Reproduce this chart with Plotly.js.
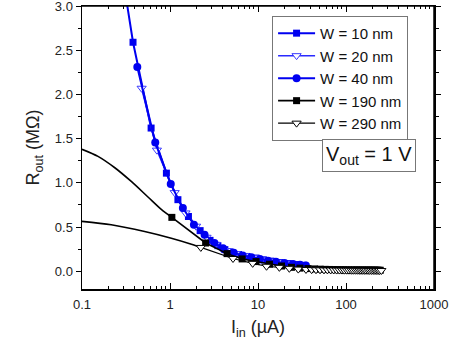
<!DOCTYPE html>
<html>
<head>
<meta charset="utf-8">
<script src="https://cdn.plot.ly/plotly-3.0.1.min.js"></script>
<style>html,body{margin:0;padding:0;background:#fff;}#plot{width:474px;height:347px;}</style>
</head>
<body>
<div id="plot"></div>
<script>
// ---- data (I in µA, R in MΩ) ----
var w10_I = [0.31, 0.38, 0.61, 0.91, 1.23, 1.62, 2.2, 2.85, 3.5, 4.2, 4.8, 6.0, 7.5, 9.5, 11.5, 14, 17.8, 22, 27.5, 33];
var w10_R = [3.15, 2.59, 1.62, 1.11, 0.81, 0.62, 0.46, 0.35, 0.29, 0.245, 0.22, 0.19, 0.168, 0.15, 0.13, 0.115, 0.10, 0.088, 0.077, 0.068];

var w20_I = [0.476, 0.71, 1.13, 1.5, 1.98, 2.6, 3.3, 4.4, 5.6, 7.0, 9.0, 11, 14, 17, 21, 26, 31];
var w20_R = [2.07, 1.37, 0.89, 0.66, 0.51, 0.385, 0.305, 0.235, 0.198, 0.175, 0.155, 0.135, 0.118, 0.105, 0.092, 0.080, 0.071];

var w40_I = [0.425, 0.68, 1.02, 1.40, 1.87, 2.47, 3.2, 4.0, 5.3, 6.7, 8.4, 10.5, 13, 16, 20, 25, 30, 35];
var w40_R = [2.31, 1.456, 0.986, 0.715, 0.527, 0.414, 0.32, 0.26, 0.21, 0.18, 0.16, 0.14, 0.12, 0.107, 0.094, 0.083, 0.074, 0.066];

var w190_lineI = [0.1, 0.152, 0.234, 0.363, 0.562, 0.796, 1.05];
var w190_lineR = [1.38, 1.30, 1.174, 1.016, 0.84, 0.70, 0.61];
var w190_I = [1.05, 2.54, 4.45, 6.6, 9.5, 13.5, 18.5, 24, 30, 37, 44, 51, 58, 65, 72, 79, 86, 93, 100, 108, 116, 124, 132, 140, 148, 156, 164, 172, 180, 188, 196, 204, 212, 220, 228, 236, 245];
var w190_R = [0.61, 0.32, 0.20, 0.14, 0.11, 0.08, 0.06, 0.045, 0.036, 0.031, 0.027, 0.024, 0.022, 0.021, 0.020, 0.019, 0.018, 0.018, 0.017, 0.017, 0.016, 0.016, 0.016, 0.015, 0.015, 0.015, 0.014, 0.014, 0.014, 0.014, 0.013, 0.013, 0.013, 0.013, 0.012, 0.012, 0.012];

var w290_lineI = [0.1, 0.215, 0.515, 1.035, 1.75, 2.24];
var w290_lineR = [0.565, 0.527, 0.451, 0.375, 0.307, 0.27];
var w290_I = [2.24, 5.2, 8.7, 12.5, 17.5, 22.7, 28.7, 35.1, 40.7, 45.6, 50.7, 56.2, 61.4, 67, 72.5, 78.3, 84, 90, 95.7, 102, 108, 115, 121, 128, 134.5, 141.6, 148, 155, 162, 169, 178, 186, 195, 204, 213, 221, 231, 240, 252];
var w290_R = [0.27, 0.145, 0.09, 0.057, 0.045, 0.034, 0.025, 0.021, 0.019, 0.018, 0.017, 0.016, 0.016, 0.015, 0.015, 0.014, 0.014, 0.014, 0.013, 0.013, 0.013, 0.012, 0.012, 0.012, 0.012, 0.011, 0.011, 0.011, 0.011, 0.011, 0.010, 0.010, 0.010, 0.010, 0.010, 0.010, 0.009, 0.009, 0.009];

var xTickVals = [0.1, 1, 10, 100, 1000];
var xTickText = ['0.1', '1', '10', '100', '1000'];
var yTickVals = [0.0, 0.5, 1.0, 1.5, 2.0, 2.5, 3.0];
var yTickText = ['0.0', '0.5', '1.0', '1.5', '2.0', '2.5', '3.0'];

var FONT = 'Liberation Sans, Arial, sans-serif';
var BLUE = '#0000f0';

var traces = [
  {x: w190_lineI, y: w190_lineR, mode: 'lines', line: {color: '#000', width: 1.6, shape: 'spline', smoothing: 0.8}, showlegend: false, hoverinfo: 'skip'},
  {x: w290_lineI, y: w290_lineR, mode: 'lines', line: {color: '#000', width: 1.6, shape: 'spline', smoothing: 0.8}, showlegend: false, hoverinfo: 'skip'},
  {x: w10_I, y: w10_R, name: 'W = 10 nm', mode: 'lines+markers', line: {color: BLUE, width: 2},
   marker: {symbol: 'square', size: 7, color: BLUE}},
  {x: w20_I, y: w20_R, name: 'W = 20 nm', mode: 'lines+markers', line: {color: '#2a2aff', width: 1.5},
   marker: {symbol: 'triangle-down', size: 8, color: '#ffffff', line: {color: '#3d3dff', width: 1}}},
  {x: w40_I, y: w40_R, name: 'W = 40 nm', mode: 'lines+markers', line: {color: BLUE, width: 2},
   marker: {symbol: 'circle', size: 8, color: BLUE}},
  {x: w190_I, y: w190_R, name: 'W = 190 nm', mode: 'lines+markers', line: {color: '#000', width: 1.6},
   marker: {symbol: 'square', size: 7, color: '#000'}},
  {x: w290_I, y: w290_R, name: 'W = 290 nm', mode: 'lines+markers', line: {color: '#000', width: 1.2},
   marker: {symbol: 'triangle-down', size: 8, color: '#ffffff', line: {color: '#000', width: 1}}}
];

var layout = {
  width: 474, height: 347,
  margin: {l: 82, r: 40, t: 6, b: 58, pad: 0},
  paper_bgcolor: '#fff', plot_bgcolor: '#fff',
  font: {family: FONT, color: '#222', size: 13},
  showlegend: true,
  xaxis: {
    type: 'log', range: [-1, 3], tickvals: xTickVals, ticktext: xTickText,
    ticks: 'inside', ticklen: 6, tickwidth: 1, tickcolor: '#000', mirror: 'ticks',
    minor: {ticks: 'inside', ticklen: 3, tickcolor: '#000', dtick: 'D1', showgrid: false},
    showline: true, linecolor: '#000', linewidth: 1.5, showgrid: false, zeroline: false,
    tickfont: {size: 13, color: '#222'}, ticklabelstandoff: 3,
    title: {text: 'I<sub>in</sub> (µA)', font: {size: 18, color: '#222'}, standoff: 9}
  },
  yaxis: {
    range: [-0.2, 3.0], tickvals: yTickVals, ticktext: yTickText,
    ticks: 'outside', ticklen: 5, tickwidth: 1, tickcolor: '#000', mirror: 'ticks',
    minor: {ticks: 'outside', ticklen: 3, tickcolor: '#000', dtick: 0.25, showgrid: false},
    showline: true, linecolor: '#000', linewidth: 1.5, showgrid: false, zeroline: false,
    tickfont: {size: 13, color: '#222'}, ticklabeloverflow: 'allow',
    title: {text: 'R<sub>out</sub> (MΩ)', font: {size: 18, color: '#222'}, standoff: 10}
  },
  shapes: [
    {type: 'line', xref: 'paper', yref: 'paper', x0: 0, x1: 1, y0: 1, y1: 1,
     line: {color: '#000', width: 1.5}, layer: 'above'},
    {type: 'line', xref: 'paper', yref: 'paper', x0: 1, x1: 1, y0: 0, y1: 1,
     line: {color: '#000', width: 1.5}, layer: 'above'}
  ],
  legend: {
    x: 0.54, y: 0.965, xanchor: 'left', yanchor: 'top',
    bgcolor: '#fff', bordercolor: '#777', borderwidth: 1,
    font: {family: FONT, size: 15, color: '#111'},
    tracegroupgap: 0, itemwidth: 37
  },
  annotations: [
    {xref: 'paper', yref: 'paper', x: 0.814, y: 0.472, xanchor: 'center', yanchor: 'middle',
     text: 'V<sub>out</sub> = 1 V', showarrow: false, font: {family: FONT, size: 20, color: '#111'},
     bordercolor: '#777', borderwidth: 1, borderpad: 3, bgcolor: '#fff'},
    {xref: 'paper', yref: 'paper', x: -0.233, y: -0.195, xanchor: 'left', yanchor: 'top',
     text: '<b>Fig. 1.</b>  Output resistance (R<sub>out</sub>) as a function of I<sub>in</sub> for current mirrors',
     showarrow: false, font: {family: 'Liberation Serif, Times New Roman, serif', size: 14, color: '#111'}}
  ]
};

Plotly.newPlot('plot', traces, layout, {staticPlot: true, displayModeBar: false});
</script>
</body>
</html>
